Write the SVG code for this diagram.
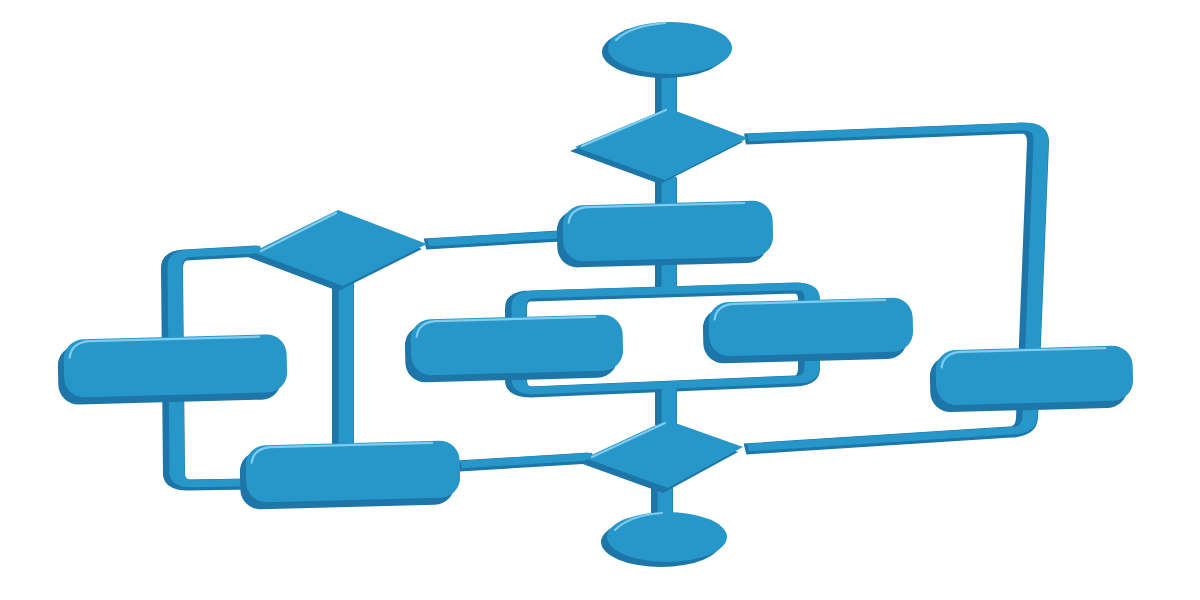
<svg xmlns="http://www.w3.org/2000/svg" xmlns:xlink="http://www.w3.org/1999/xlink" width="1200" height="600" viewBox="0 0 1200 600">
<style>
.side{fill:#1D75A8}
.face{fill:#2797C9}
.hl{fill:none;stroke:#8ED6F7;stroke-width:2.2;stroke-linecap:round;opacity:.85}
.tdark{fill:none;stroke:#1D75A8;stroke-width:22;stroke-linejoin:round}
.tmain{fill:none;stroke:#2797C9;stroke-width:15;stroke-linejoin:round}
</style>
<defs>
<path id="c1" d="M666,140 L666,230"/>
<path id="c2" d="M745,278 L1022,256 Q1038,256 1038,284 L1027,836 Q1026,864 1010,864 L745,898"/>
<path id="c3" d="M666,356 L666,416"/>
<path id="c4" d="M560,472 L425,488"/>
<path id="c5" d="M258,502 L185,510 Q172,512 172,536 L174,950 Q175,970 188,970 L250,968"/>
<path id="c6" d="M343,566 L343,904"/>
<path id="c7" d="M458,932 L590,916"/>
<path id="c8" d="M666,524 L666,580"/>
<path id="c9" d="M530,592 L795,576 Q809,576 809,600 L809,736 Q809,762 795,762 L530,784 Q516,784 516,760 L516,616 Q516,592 530,592 Z"/>
<path id="c10" d="M666,772 L666,850"/>
<path id="c11" d="M662,970 L662,1036"/>
</defs>
<rect width="1200" height="600" fill="#ffffff"/>
<g id="connectors" transform="scale(1,0.5)">
<g class="tdark">
<use xlink:href="#c1"/><use xlink:href="#c2"/><use xlink:href="#c3"/><use xlink:href="#c4"/><use xlink:href="#c5"/><use xlink:href="#c6"/><use xlink:href="#c7"/><use xlink:href="#c8"/><use xlink:href="#c9"/><use xlink:href="#c10"/><use xlink:href="#c11"/>
</g>
<g class="tmain" transform="translate(3,-3)">
<use xlink:href="#c1"/><use xlink:href="#c2"/><use xlink:href="#c3"/><use xlink:href="#c4"/><use xlink:href="#c5"/><use xlink:href="#c6"/><use xlink:href="#c7"/><use xlink:href="#c8"/><use xlink:href="#c9"/><use xlink:href="#c10"/><use xlink:href="#c11"/>
</g>
</g>
<g id="start">
<ellipse class="side" cx="664" cy="52" rx="62" ry="26"/>
<ellipse class="face" cx="670" cy="48" rx="62" ry="26"/>
<path class="hl" d="M616,40 Q630,26 665,23"/>
</g>
<g id="decision1">
<polygon class="side" points="663,113 743,142 660,184 570,151"/>
<polygon class="face" points="668,108 748,138 665,180 575,147"/>
<path class="hl" d="M582,146 L666,110"/>
</g>
<g id="process1" transform="rotate(-1.5 668 234)">
<rect class="side" x="557" y="208" width="210" height="57" rx="20"/>
<rect class="face" x="563" y="203" width="210" height="56" rx="20"/>
<path class="hl" d="M569,220 Q571,206 588,205 L745,205"/>
</g>
<g id="decision2">
<polygon class="side" points="333,215 422,249 338,291 248,257"/>
<polygon class="face" points="338,210 427,244 343,286 253,252"/>
<path class="hl" d="M261,251 L336,213"/>
</g>
<g id="process2" transform="rotate(-1.5 172 370)">
<rect class="side" x="58" y="343" width="223" height="59" rx="20"/>
<rect class="face" x="64" y="337" width="223" height="58" rx="20"/>
<path class="hl" d="M70,355 Q72,340 90,339 L260,339"/>
</g>
<g id="process3" transform="rotate(-1.5 514 348)">
<rect class="side" x="405" y="323" width="212" height="57" rx="20"/>
<rect class="face" x="411" y="317" width="212" height="56" rx="20"/>
<path class="hl" d="M417,334 Q419,320 436,319 L596,319"/>
</g>
<g id="process4" transform="rotate(-1.5 808 330)">
<rect class="side" x="703" y="306" width="204" height="55" rx="20"/>
<rect class="face" x="709" y="300" width="204" height="54" rx="20"/>
<path class="hl" d="M715,317 Q717,303 734,302 L886,302"/>
</g>
<g id="process5" transform="rotate(-1.5 1031 379)">
<rect class="side" x="930" y="354" width="197" height="56" rx="20"/>
<rect class="face" x="936" y="348" width="197" height="55" rx="20"/>
<path class="hl" d="M942,365 Q944,351 961,350 L1106,350"/>
</g>
<g id="process6" transform="rotate(-1.5 350 474)">
<rect class="side" x="240" y="449" width="214" height="58" rx="20"/>
<rect class="face" x="246" y="443" width="214" height="57" rx="20"/>
<path class="hl" d="M252,460 Q254,446 271,445 L433,445"/>
</g>
<g id="decision3">
<polygon class="side" points="662,425 738,452 663,493 580,463"/>
<polygon class="face" points="667,420 743,447 668,488 585,458"/>
<path class="hl" d="M592,457 L665,423"/>
</g>
<g id="end">
<ellipse class="side" cx="661" cy="542" rx="60" ry="25"/>
<ellipse class="face" cx="667" cy="537" rx="60" ry="25"/>
<path class="hl" d="M615,530 Q630,515 662,513"/>
</g>
</svg>
